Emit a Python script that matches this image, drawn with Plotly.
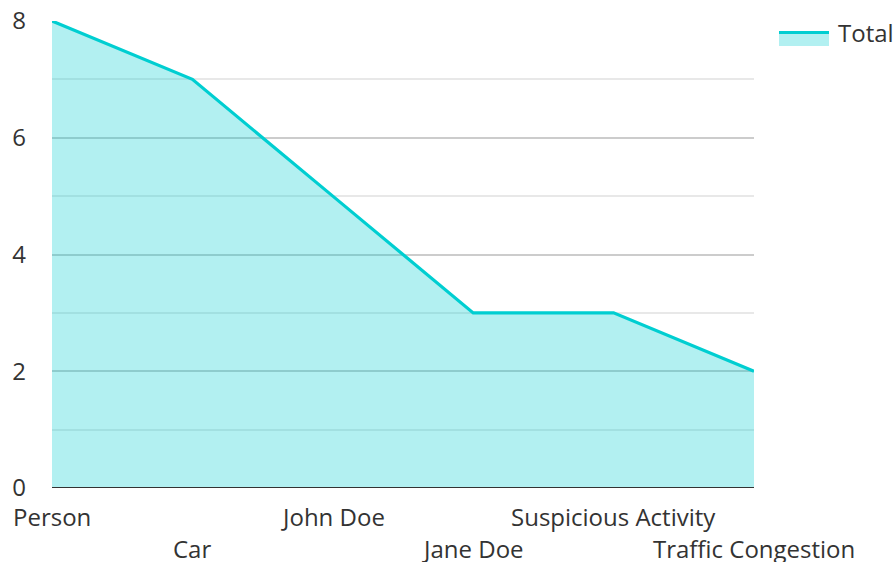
import plotly.graph_objects as go

categories = ["Person", "Car", "John Doe", "Jane Doe", "Suspicious Activity", "Traffic Congestion"]
totals = [8, 7, 5, 3, 3, 2]
y_ticks = [0, 2, 4, 6, 8]
series_name = "Total"

FONT = "Open Sans"
LINE = "#00CED1"
FILL = "rgba(0,206,209,0.3)"
TXT = "#333333"

W, H = 896, 562
L, R, T, B = 52, 142, 21, 74
PW, PH = W - L - R, H - T - B


def px_x(x):  # pixel -> paper x
    return (x - L) / PW


def px_y(y):  # pixel -> paper y
    return (H - B - y) / PH


fig = go.Figure()
fig.add_trace(go.Scatter(
    x=list(range(len(categories))), y=totals, name=series_name,
    mode="lines", fill="tozeroy",
    line=dict(color=LINE, width=3.2),
    fillcolor=FILL, showlegend=False,
))

annotations = []
for i, c in enumerate(categories):
    annotations.append(dict(
        x=i, y=0, xref="x", yref="y", text=c, showarrow=False,
        xanchor="center", yanchor="middle",
        yshift=-28 if i % 2 == 0 else -60,
        font=dict(family=FONT, size=24, color=TXT),
    ))
# legend text
annotations.append(dict(
    x=px_x(836), y=px_y(33), xref="paper", yref="paper", text=series_name,
    showarrow=False, xanchor="left", yanchor="middle",
    font=dict(family=FONT, size=24, color=TXT),
))

shapes = [
    dict(type="line", xref="paper", yref="y", x0=0, x1=1, y0=0, y1=0,
         line=dict(color=TXT, width=2), layer="above"),
    # legend swatch: fill + line
    dict(type="rect", xref="paper", yref="paper",
         x0=px_x(779), x1=px_x(829), y0=px_y(46), y1=px_y(34),
         fillcolor=FILL, line=dict(width=0)),
    dict(type="line", xref="paper", yref="paper",
         x0=px_x(779), x1=px_x(829), y0=px_y(32.5), y1=px_y(32.5),
         line=dict(color=LINE, width=3)),
]

fig.update_layout(
    width=W, height=H,
    margin=dict(l=L, r=R, t=T, b=B, autoexpand=False),
    paper_bgcolor="white", plot_bgcolor="white",
    showlegend=False,
    annotations=annotations, shapes=shapes,
    font=dict(family=FONT),
)
fig.update_xaxes(
    range=[0, len(categories) - 1], showticklabels=False, showgrid=False,
    zeroline=False, showline=False, automargin=False,
)
fig.update_yaxes(
    range=[0, 8], tickvals=y_ticks, ticktext=[str(v) for v in y_ticks],
    showgrid=True, gridcolor="#cccccc", gridwidth=1.5,
    minor=dict(dtick=1, showgrid=True, gridcolor="#e8e8e8", gridwidth=1.5),
    zeroline=False, showline=False, automargin=False,
    tickfont=dict(family=FONT, size=24, color=TXT),
    ticklabelstandoff=25, ticklabeloverflow="allow",
)

fig.write_html(
    "out.html",
    config={"displayModeBar": False},
    post_script="document.body.style.margin='0';document.body.style.overflow='hidden';",
)
